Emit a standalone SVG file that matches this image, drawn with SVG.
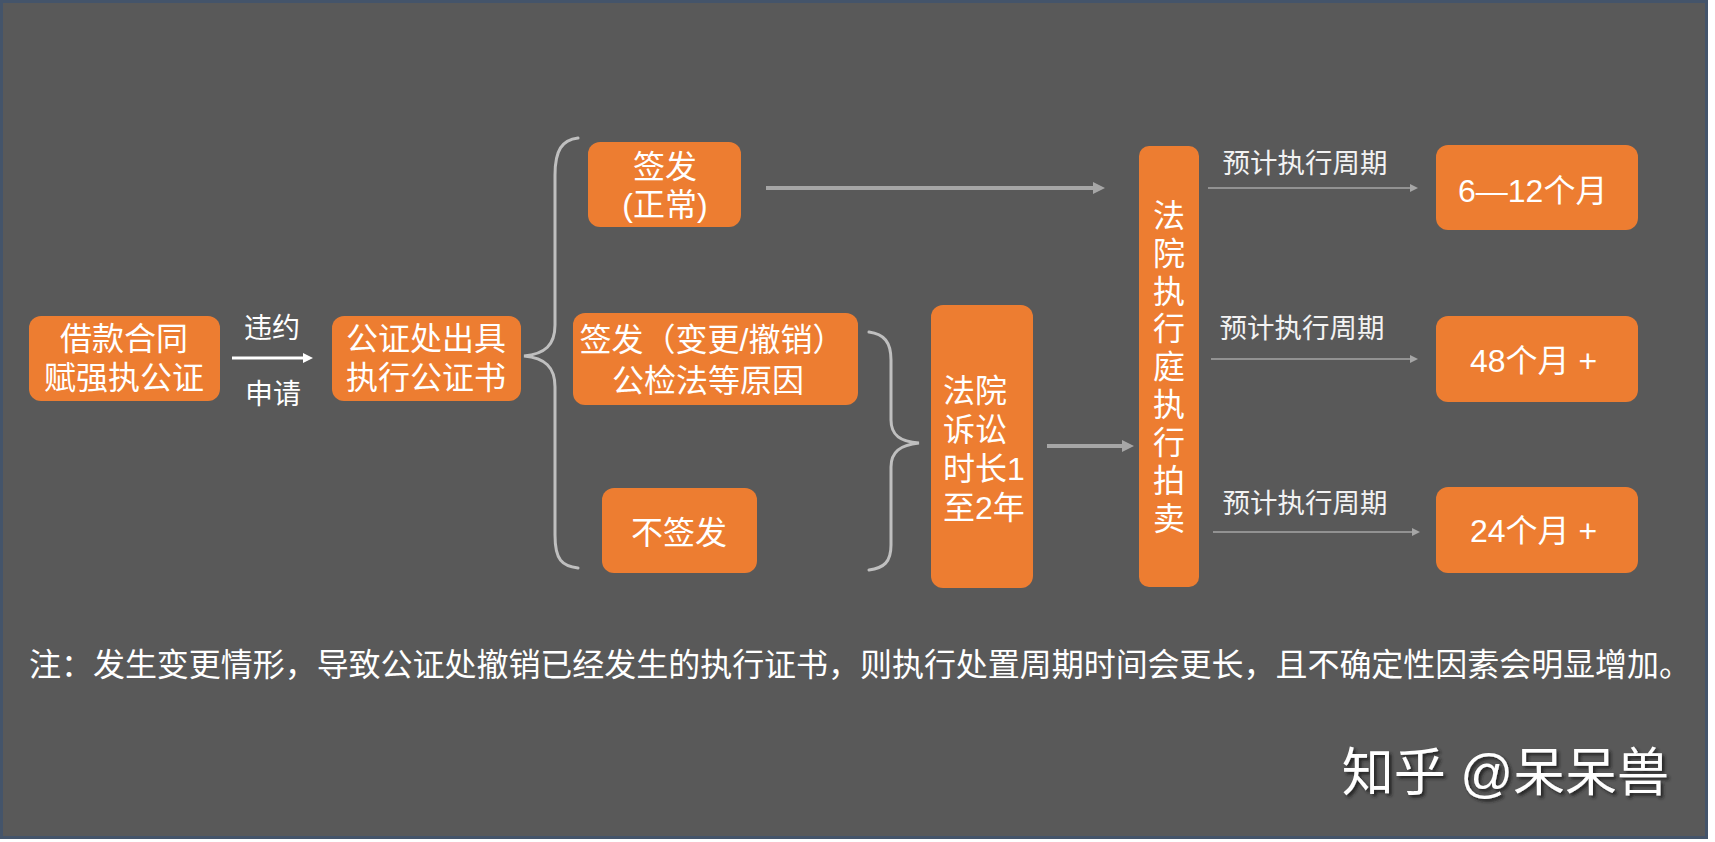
<svg xmlns="http://www.w3.org/2000/svg" width="1715" height="842" viewBox="0 0 1715 842">
<defs>
<style>
.box{fill:#ed7d31;}
.t{font-family:"Liberation Sans","Noto Sans CJK SC",sans-serif;fill:#ffffff;}
.c32{font-size:32px;text-anchor:middle;}
.lbl{font-size:27.5px;text-anchor:middle;fill:#f2f2f2;}
.brace{fill:none;stroke:#bfbfbf;stroke-width:3;stroke-linecap:round;}
.gline{fill:none;stroke:#a6a6a6;stroke-width:4;}
.tline{fill:none;stroke:#a6a6a6;stroke-width:1.5;}
.wline{fill:none;stroke:#ffffff;stroke-width:3;}
</style>
<marker id="ahG" viewBox="0 0 10 10" refX="0" refY="5" markerWidth="12" markerHeight="13" markerUnits="userSpaceOnUse" orient="auto"><path d="M0,0 L10,5 L0,10 z" fill="#a6a6a6"/></marker>
<marker id="ahT" viewBox="0 0 10 10" refX="0" refY="5" markerWidth="9" markerHeight="8" markerUnits="userSpaceOnUse" orient="auto"><path d="M0,0 L10,5 L0,10 z" fill="#a6a6a6"/></marker>
<marker id="ahW" viewBox="0 0 10 10" refX="0" refY="5" markerWidth="10" markerHeight="11" markerUnits="userSpaceOnUse" orient="auto"><path d="M0,0 L10,5 L0,10 z" fill="#ffffff"/></marker>
<filter id="sh" x="-10%" y="-30%" width="130%" height="170%"><feDropShadow dx="2.5" dy="2.5" stdDeviation="1.5" flood-color="#1e1e1e" flood-opacity="0.9"/></filter>
</defs>
<rect x="0" y="0" width="1715" height="842" fill="#ffffff"/>
<rect x="1.5" y="1.5" width="1705" height="836" fill="#595959" stroke="#44546a" stroke-width="3"/>

<g id="connectors">
<line class="wline" x1="232" y1="358" x2="303" y2="358" marker-end="url(#ahW)"/>
<path class="brace" d="M578,138 C562,140 555,150 555,175 L555,325 C555,345 545,354 524,356 C545,358 555,367 555,387 L555,535 C555,560 562,566 578,568"/>
<path class="brace" d="M869,332 C884,334 891,342 891,360 L891,420 C891,435 900,442 919,443 C900,445 891,452 891,467 L891,545 C891,562 884,568 869,570"/>
<line class="gline" x1="766" y1="188" x2="1093" y2="188" marker-end="url(#ahG)"/>
<line class="gline" x1="1047" y1="446" x2="1122" y2="446" marker-end="url(#ahG)"/>
<line class="tline" x1="1208" y1="188" x2="1410" y2="188" marker-end="url(#ahT)"/>
<line class="tline" x1="1211" y1="359" x2="1410" y2="359" marker-end="url(#ahT)"/>
<line class="tline" x1="1213" y1="532" x2="1412" y2="532" marker-end="url(#ahT)"/>
<text class="t" x="272" y="338" font-size="28" text-anchor="middle">违约</text>
<text class="t" x="273" y="404" font-size="28" text-anchor="middle">申请</text>
<text class="t lbl" x="1305" y="173">预计执行周期</text>
<text class="t lbl" x="1302" y="338">预计执行周期</text>
<text class="t lbl" x="1305" y="513">预计执行周期</text>
</g>

<g id="n_contract">
<rect class="box" x="29" y="316" width="191" height="85" rx="12"/>
<text class="t c32" x="124" y="350">借款合同</text>
<text class="t c32" x="124" y="389">赋强执公证</text>
</g>

<g id="n_notary">
<rect class="box" x="332" y="316" width="189" height="85" rx="12"/>
<text class="t c32" x="426" y="350">公证处出具</text>
<text class="t c32" x="426" y="389">执行公证书</text>
</g>

<g id="n_issue_normal">
<rect class="box" x="588" y="142" width="153" height="85" rx="12"/>
<text class="t c32" x="665" y="178">签发</text>
<text class="t c32" x="665" y="216">(正常)</text>
</g>

<g id="n_issue_change">
<rect class="box" x="573" y="313" width="285" height="92" rx="12"/>
<text class="t c32" x="712" y="351">签发（变更/撤销）</text>
<text class="t c32" x="708" y="392">公检法等原因</text>
</g>

<g id="n_no_issue">
<rect class="box" x="602" y="488" width="155" height="85" rx="12"/>
<text class="t c32" x="679" y="544">不签发</text>
</g>

<g id="n_litigation">
<rect class="box" x="931" y="305" width="102" height="283" rx="12"/>
<text class="t" x="943" y="402" font-size="32">法院</text>
<text class="t" x="943" y="441" font-size="32">诉讼</text>
<text class="t" x="943" y="480" font-size="32">时长1</text>
<text class="t" x="943" y="519" font-size="32">至2年</text>
</g>

<g id="n_execution">
<rect class="box" x="1139" y="146" width="60" height="441" rx="10"/>
<text class="t c32" x="1169" y="227">法</text>
<text class="t c32" x="1169" y="265">院</text>
<text class="t c32" x="1169" y="303">执</text>
<text class="t c32" x="1169" y="340">行</text>
<text class="t c32" x="1169" y="378">庭</text>
<text class="t c32" x="1169" y="416">执</text>
<text class="t c32" x="1169" y="454">行</text>
<text class="t c32" x="1169" y="492">拍</text>
<text class="t c32" x="1169" y="530">卖</text>
</g>

<g id="n_6_12">
<rect class="box" x="1436" y="145" width="202" height="85" rx="12"/>
<text class="t" x="1458" y="202" font-size="32">6—12个月</text>
</g>

<g id="n_48">
<rect class="box" x="1436" y="316" width="202" height="86" rx="12"/>
<text class="t" x="1470" y="372" font-size="32">48个月 +</text>
</g>

<g id="n_24">
<rect class="box" x="1436" y="487" width="202" height="86" rx="12"/>
<text class="t" x="1470" y="542" font-size="32">24个月 +</text>
</g>

<g id="note">
<text class="t" x="29" y="676" font-size="32" textLength="1662" lengthAdjust="spacing">注：发生变更情形，导致公证处撤销已经发生的执行证书，则执行处置周期时间会更长，且不确定性因素会明显增加。</text>
</g>

<g id="watermark">
<text class="t" x="1669" y="791" font-size="52" text-anchor="end" filter="url(#sh)">知乎 @呆呆兽</text>
</g>
</svg>
